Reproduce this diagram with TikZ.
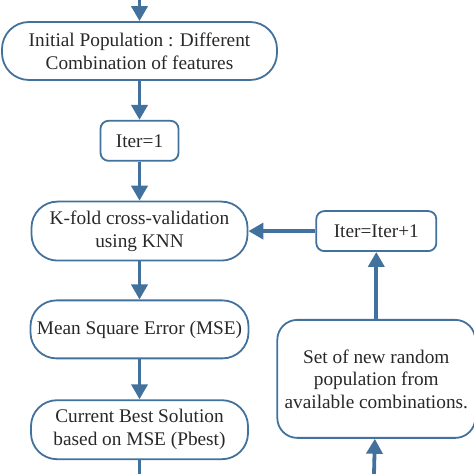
\documentclass[tikz,border=0pt]{standalone}
\usepackage{fontspec}
\setmainfont{Liberation Serif}
\usetikzlibrary{arrows.meta,positioning}
\definecolor{flowblue}{RGB}{65,113,156}
\definecolor{flowtext}{RGB}{40,40,40}

\begin{document}
\begin{tikzpicture}[x=1pt,y=1pt,
  >={Triangle[length=15pt,width=16pt]},
  box/.style={draw=flowblue, line width=1.8pt, text=flowtext, align=center,
    inner sep=0pt, font=\fontsize{19.3}{23}\selectfont},
  link/.style={draw=flowblue, line width=3.8pt, ->}]
 \useasboundingbox (0,0) rectangle (474,474);

 % main column
 \node[box, minimum width=275pt, minimum height=58pt, rounded corners=27pt] (init) at (139.5,423) {Initial Population : Different\\Combination of features};
 \node[box, minimum width=78pt, minimum height=40pt, rounded corners=8pt, below = 39pt of init] (iter) {Iter=1};
 \node[box, minimum width=216pt, minimum height=59pt, rounded corners=26pt, below = 39pt of iter] (knn) {K-fold cross-validation\\using KNN};
 \node[box, minimum width=218pt, minimum height=58pt, rounded corners=26pt, below = 38pt of knn] (mse) {Mean Square Error (MSE)};
 \node[box, minimum width=217pt, minimum height=59pt, rounded corners=26pt, below = 40pt of mse] (best) {Current Best Solution\\based on MSE (Pbest)};

 % loop back
 \node[box, minimum width=120pt, minimum height=40pt, rounded corners=8pt, right = 67pt of knn] (inc) {Iter=Iter+1};
 \node[box, minimum width=198pt, minimum height=118pt, rounded corners=20pt, below = 67pt of inc, font=\fontsize{19.3}{22.5}\selectfont] (newpop) {Set of new random\\population from\\available combinations.};

 \coordinate (start) at (139.5,474);
 \coordinate (stop) at (139.5,0);
 \coordinate (back) at (374,0);

 \draw[link] (start) -- (init);
 \draw[link] (init) -- (iter);
 \draw[link] (iter) -- (knn);
 \draw[link] (knn) -- (mse);
 \draw[link] (mse) -- (best);
 \draw[link, -] (best) -- (stop);

 \draw[link] (back) -- (newpop);
 \draw[link] (newpop) -- (inc);
 \draw[link] (inc) -- (knn);
\end{tikzpicture}
\end{document}
